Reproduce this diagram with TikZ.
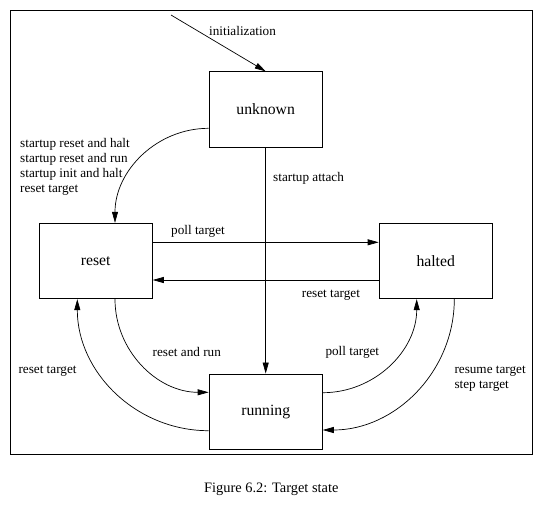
\documentclass[tikz,border=0pt]{standalone}
\usepackage{fontspec}
\setmainfont{Liberation Serif}
\usetikzlibrary{arrows.meta}
\begin{document}
\begin{tikzpicture}[x=1pt,y=-1pt,
  state/.style={draw, line width=0.8pt, minimum width=113.3pt, minimum height=75.5pt, inner sep=0pt, font=\fontsize{15.7}{18}\selectfont},
  lbl/.style={inner sep=0pt, anchor=west, align=left, font=\fontsize{13.2}{15}\selectfont},
  conn/.style={line width=0.7pt, -{Triangle[length=11pt,width=6pt]}}
]
\useasboundingbox (0,0) rectangle (546,504);
\draw[line width=0.9pt] (10.7,10.7) rectangle (532.3,454.7);

\node[state] (unknown) at (265.7,109.5) {unknown};
\node[state] (reset) at (95.7,261) {reset};
\node[state] (halted) at (435.7,261) {halted};
\node[state] (running) at (265.7,411.7) {running};

\coordinate (init) at (171,15);
\draw[conn] (init) -- (unknown.north);
\node[lbl] (linit) at (209,31) {initialization};

\draw[conn] ([yshift=-18.8pt]unknown.west) to[out=180,in=90] ([xshift=19.3pt]reset.north);
\node[lbl] (lstart) at (20,166.5) {startup reset and halt\\startup reset and run\\startup init and halt\\reset target};

\draw[conn] (unknown.south) -- (running.north);
\node[lbl] (lattach) at (273,178.3) {startup attach};

\draw[conn] ([yshift=18.7pt]reset.east) -- ([yshift=18.7pt]halted.west);
\node[lbl] (lpoll1) at (171,231) {poll target};

\draw[conn] ([yshift=-19pt]halted.west) -- ([yshift=-19pt]reset.east);
\node[lbl] (lreset1) at (301.7,295) {reset target};

\draw[conn] ([xshift=19.3pt]reset.south) to[out=-90,in=180] ([yshift=19.4pt]running.west);
\node[lbl] (lrun) at (152.5,352) {reset and run};

\draw[conn] ([yshift=-19pt]running.west) to[out=180,in=-90] ([xshift=-18.4pt]reset.south);
\node[lbl] (lreset2) at (18.3,371) {reset target};

\draw[conn] ([yshift=19pt]running.east) to[out=0,in=-90] ([xshift=-19pt]halted.south);
\node[lbl] (lpoll2) at (325.3,352) {poll target};

\draw[conn] ([xshift=18.6pt]halted.south) to[out=-90,in=0] ([yshift=-18.3pt]running.east);
\node[lbl] (lresume) at (454.3,378.5) {resume target\\step target};

\node[inner sep=0pt, font=\fontsize{14.4}{17}\selectfont] (caption) at (271.3,489.3) {Figure 6.2: Target state};
\end{tikzpicture}
\end{document}
